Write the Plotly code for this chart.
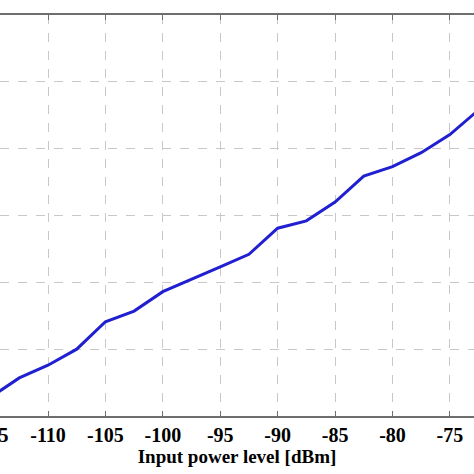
import plotly.graph_objects as go

# input power sweep [dBm] and measured curve (y labels are cropped in the source)
power_dbm = [-115, -112.5, -110, -107.5, -105, -102.5, -100, -97.5, -95,
             -92.5, -90, -87.5, -85, -82.5, -80, -77.5, -75, -72.5]
values = [0.28, 0.57, 0.76, 1.00, 1.41, 1.57, 1.86, 2.04, 2.23,
          2.42, 2.81, 2.92, 3.20, 3.59, 3.73, 3.94, 4.21, 4.58]

x_ticks = [-110, -105, -100, -95, -90, -85, -80, -75]
x_range = [-114.18, -72.9]
y_ticks = [0, 1, 2, 3, 4, 5, 6]
y_range = [0, 6]

font_serif = "Liberation Serif, Times New Roman, serif"
grid_col = "#c8c8c8"
axis_col = "#6e6e6e"

fig = go.Figure()
fig.add_trace(go.Scatter(
    x=power_dbm, y=values, mode="lines",
    line=dict(color="rgb(32,32,208)", width=3),
    hoverinfo="x+y"
))

# the -115 label sits mostly off the left edge, only its tail shows
x_left = (-115 - x_range[0]) / (x_range[1] - x_range[0])
fig.add_annotation(
    x=x_left, y=0, xref="paper", yref="paper", text="<b>-115</b>",
    showarrow=False, xanchor="center", yanchor="middle", yshift=-19,
    font=dict(family=font_serif, size=20, color="black")
)

fig.update_layout(
    width=474, height=474,
    margin=dict(l=0, r=0, t=15, b=58),
    paper_bgcolor="white", plot_bgcolor="white",
    showlegend=False,
    font=dict(family=font_serif, size=20, color="black"),
    xaxis=dict(
        range=x_range, tickvals=x_ticks, ticktext=[f"<b>{t}</b>" for t in x_ticks],
        showgrid=True, gridcolor=grid_col, griddash="dash", gridwidth=1,
        showline=True, linecolor=axis_col, linewidth=1.5, mirror="ticks",
        ticks="inside", ticklen=5, tickcolor=axis_col,
        zeroline=False,
        tickfont=dict(family=font_serif, size=20, color="black"),
        title=dict(text="<b>Input power level [dBm]</b>", standoff=2,
                   font=dict(family=font_serif, size=19, color="black")),
    ),
    yaxis=dict(
        range=y_range, tickvals=y_ticks, showticklabels=False,
        showgrid=True, gridcolor=grid_col, griddash="dash", gridwidth=1,
        showline=False, zeroline=False, ticks="",
    ),
)

fig.write_html("out.html", config={"displayModeBar": False},
               post_script="document.body.style.margin='0px';")
